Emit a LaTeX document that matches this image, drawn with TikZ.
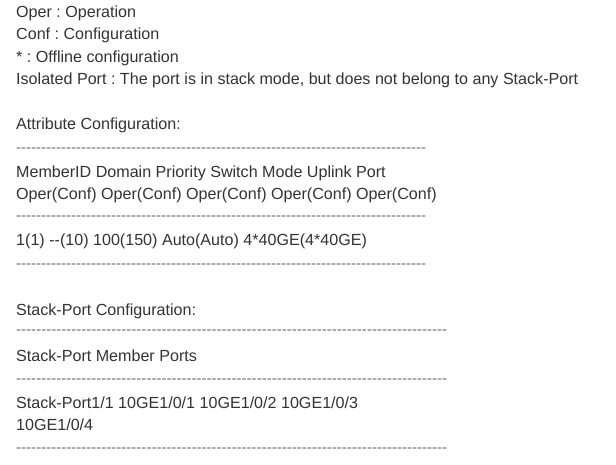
\documentclass[tikz,border=0pt]{standalone}
\usepackage{fontspec}
\setmainfont{Liberation Sans}
\frenchspacing
\begin{document}
\begin{tikzpicture}[x=1pt,y=-1pt,
  txt/.style={anchor=base west,inner sep=0pt,text=black!80,font=\fontsize{16.1}{19}\selectfont},
  dl/.style={anchor=base west,inner sep=0pt,text=black!55,font=\fontsize{15}{18}\selectfont}]
\useasboundingbox (0,0) rectangle (616,464);
\fill[white] (0,0) rectangle (616,464);
\newcommand{\dashrule}[1]{\hbox to #1{\xleaders\hbox{-}\hfill}}
\node[txt] (l1) at (16,17) {Oper : Operation};
\node[txt] (l2) at (16,39) {Conf : Configuration};
\node[txt] (l3) at (16,62) {* : Offline configuration};
\node[txt] (l4) at (16,84) {Isolated Port : The port is in stack mode, but does not belong to any Stack-Port};
\node[txt] (l5) at (16,129) {Attribute Configuration:};
\node[dl] (d1) at (16,152) {\dashrule{410pt}};
\node[txt] (l6) at (16,177) {MemberID Domain Priority Switch Mode Uplink Port};
\node[txt] (l7) at (16,199) {Oper(Conf) Oper(Conf) Oper(Conf) Oper(Conf) Oper(Conf)};
\node[dl] (d2) at (16,220) {\dashrule{410pt}};
\node[txt] (l8) at (16,245) {1(1) -{}-(10) 100(150) Auto(Auto) 4*40GE(4*40GE)};
\node[dl] (d3) at (16,268) {\dashrule{410pt}};
\node[txt] (l9) at (16,315) {Stack-Port Configuration:};
\node[dl] (d4) at (16,334) {\dashrule{431pt}};
\node[txt] (l10) at (16,361) {Stack-Port Member Ports};
\node[dl] (d5) at (16,383) {\dashrule{431pt}};
\node[txt] (l11) at (16,408) {Stack-Port1/1 10GE1/0/1 10GE1/0/2 10GE1/0/3};
\node[txt] (l12) at (16,430) {10GE1/0/4};
\node[dl] (d6) at (16,452) {\dashrule{431pt}};
\end{tikzpicture}
\end{document}
